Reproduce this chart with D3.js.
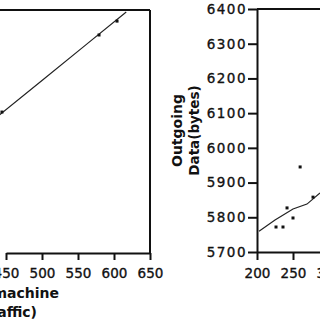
<!DOCTYPE html>
<html><head><meta charset="utf-8">
<script src="https://cdn.jsdelivr.net/npm/d3@7"></script>
<style>
html,body{margin:0;padding:0;background:#fff;}
svg{display:block;}
text{font-family:"DejaVu Sans",sans-serif;fill:#111;}
</style></head>
<body>
<svg id="c" width="320" height="320"></svg>
<script>
// Left panel (incoming traffic)
const leftXTicks = [400, 450, 500, 550, 600, 650];
const leftPointsX = [444.4, 579.2, 604.2];
const leftPointsY = [6106, 6328, 6368];
const leftFitX = [440, 500, 560, 617];
const leftFitY = [6096, 6197, 6298, 6394];
const leftXLabel = ["Data to the machine", "(Incoming traffic)"];

// Right panel (outgoing data)
const rightXTicks = [200, 250, 300];
const rightYTicks = [5700, 5800, 5900, 6000, 6100, 6200, 6300, 6400];
const rightPointsX = [226.4, 236.1, 241.7, 250, 259.9, 277.8];
const rightPointsY = [5772, 5772, 5827, 5798, 5945, 5858];
const rightFitX = [202.8, 225, 250, 269.4, 287.5];
const rightFitY = [5760, 5792, 5824, 5838, 5870];
const rightYLabel = ["Outgoing", "Data(bytes)"];

const svg = d3.select("#c");

function styleAxis(g){
  g.select(".domain").attr("stroke","#111").attr("stroke-width",2);
  g.selectAll(".tick line").attr("stroke","#111").attr("stroke-width",2);
  g.selectAll(".tick text").style("font-size","13.5px").attr("fill","#111")
    .attr("stroke","#111").attr("stroke-width",0.35);
}

// ---------- Left panel ----------
const lx = d3.scaleLinear().domain([450,650]).range([6,150]);
const ly = d3.scaleLinear().domain([5700,6400]).range([253,10]);

const lxAxis = svg.append("g").attr("transform","translate(0,253)")
  .call(d3.axisBottom(lx).tickValues(leftXTicks).tickSize(7).tickPadding(8).tickSizeOuter(0));
styleAxis(lxAxis);
// box
svg.append("line").attr("x1",lx(400)).attr("x2",lx(650)).attr("y1",ly(6400)).attr("y2",ly(6400))
  .attr("stroke","#111").attr("stroke-width",2);
svg.append("line").attr("x1",lx(650)).attr("x2",lx(650)).attr("y1",ly(6400)).attr("y2",ly(5700))
  .attr("stroke","#111").attr("stroke-width",2);

const leftFit = leftFitX.map((d,i)=>[d,leftFitY[i]]);
svg.append("path").datum(leftFit)
  .attr("d", d3.line().x(d=>lx(d[0])).y(d=>ly(d[1])))
  .attr("fill","none").attr("stroke","#222").attr("stroke-width",1.2);
svg.append("g").selectAll("rect").data(leftPointsX.map((d,i)=>[d,leftPointsY[i]])).join("rect")
  .attr("x",d=>lx(d[0])-1.5).attr("y",d=>ly(d[1])-1.5).attr("width",3).attr("height",3).attr("fill","#111");

svg.append("text").attr("x",59).attr("y",298).attr("text-anchor","end")
  .style("font-size","14px").style("font-weight","bold").text(leftXLabel[0]);
svg.append("text").attr("x",37).attr("y",317).attr("text-anchor","end")
  .style("font-size","14px").style("font-weight","bold").text(leftXLabel[1]);

// ---------- Right panel ----------
const rx = d3.scaleLinear().domain([200,300]).range([257,329]);
const ry = d3.scaleLinear().domain([5700,6400]).range([252,9]);

const rxAxis = svg.append("g").attr("transform","translate(0,252)")
  .call(d3.axisBottom(rx).tickValues(rightXTicks).tickSize(8).tickPadding(8).tickSizeOuter(0));
styleAxis(rxAxis);
const ryAxis = svg.append("g").attr("transform","translate(257,0)")
  .call(d3.axisLeft(ry).tickValues(rightYTicks).tickSize(9).tickPadding(1).tickSizeOuter(0).tickFormat(d3.format("d")));
styleAxis(ryAxis);
ryAxis.selectAll(".tick text").style("letter-spacing","1.5px");
svg.append("line").attr("x1",rx(200)).attr("x2",330).attr("y1",ry(6400)).attr("y2",ry(6400))
  .attr("stroke","#111").attr("stroke-width",2);

const rightFit = rightFitX.map((d,i)=>[d,rightFitY[i]]);
svg.append("path").datum(rightFit)
  .attr("d", d3.line().x(d=>rx(d[0])).y(d=>ry(d[1])))
  .attr("fill","none").attr("stroke","#222").attr("stroke-width",1.2);
svg.append("g").selectAll("rect").data(rightPointsX.map((d,i)=>[d,rightPointsY[i]])).join("rect")
  .attr("x",d=>rx(d[0])-1.5).attr("y",d=>ry(d[1])-1.5).attr("width",3).attr("height",3).attr("fill","#111");

const cy = (ry(5700)+ry(6400))/2;
svg.append("text").attr("transform",`translate(182,${cy}) rotate(-90)`).attr("text-anchor","middle")
  .style("font-size","14px").style("font-weight","bold").text(rightYLabel[0]);
svg.append("text").attr("transform",`translate(199,${cy}) rotate(-90)`).attr("text-anchor","middle")
  .style("font-size","13.5px").style("font-weight","bold").text(rightYLabel[1]);
</script>
</body></html>
